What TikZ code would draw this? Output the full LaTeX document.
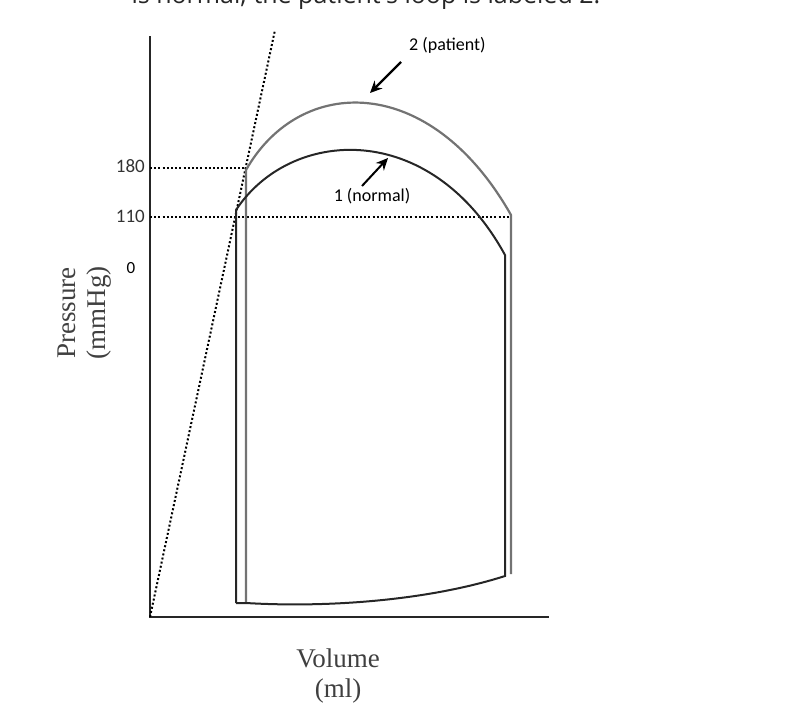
\documentclass[tikz,border=0pt]{standalone}
\usepackage{fontspec}
\usetikzlibrary{arrows.meta}
\setmainfont{Liberation Serif}
\newfontfamily\lblfont{Carlito}
\newfontfamily\topfont{Open Sans}
\begin{document}
\begin{tikzpicture}[x=1pt,y=-1pt,
  axis/.style={line width=2.4pt,black!85},
  dots/.style={line width=2pt,dash pattern=on 2pt off 2.2pt},
  patient/.style={line width=2.2pt,black!55},
  normal/.style={line width=2pt,black!85},
  lbl/.style={font=\lblfont\fontsize{18}{20}\selectfont,inner sep=1pt},
  tick/.style={font=\lblfont\fontsize{19}{21}\selectfont,anchor=east,inner sep=1pt,black!80},
  ttl/.style={font=\fontsize{27}{30}\selectfont,align=center,black!75}]
\useasboundingbox (0,0) rectangle (796,726);
\begin{scope}
\clip (0,0) rectangle (796,726);
\node[font=\topfont\fontsize{25}{28}\selectfont,anchor=west,black!85] (top) at (128,-3) {is normal; the patient's loop is labeled 2.};
\end{scope}
% axes
\coordinate (o) at (150,617);
\coordinate (ytop) at (150,36);
\coordinate (xend) at (549,617);
\draw[axis] (ytop) -- (o) -- (xend);
\coordinate (dtop) at (275,30);
\draw[dots] (o) -- (dtop);
% dotted levels
\coordinate (y180) at (150,168);
\coordinate (y110) at (150,217);
\coordinate (p180) at (246,168);
\coordinate (p110) at (511,217);
\draw[dots] (y180) -- (p180);
\draw[dots] (y110) -- (p110);
\node[tick] (t180) at (146,166) {180};
\node[tick] (t110) at (146,216) {110};
\node[font=\lblfont\fontsize{17}{19}\selectfont,inner sep=0pt] (z) at (131,268) {0};
% patient loop
\draw[patient] (246,603) -- (246,170) .. controls (300,75) and (430,72) .. (511,215) -- (511,574);
% normal loop
\draw[normal] (236,603) -- (236,210) .. controls (290,128) and (430,118) .. (505,255) -- (505,576)
  .. controls (430,600) and (330,608) .. (246,603) -- (236,603);
% arrows
\node[lbl,anchor=west] (l2) at (408,45) {2 (patient)};
\node[lbl] (l1) at (372,196) {1 (normal)};
\coordinate (a2) at (370,93);
\coordinate (a1) at (388,158);
\draw[-{Stealth[length=12pt,width=11pt]},line width=2.2pt] (401,62) -- (a2);
\draw[-{Stealth[length=12pt,width=11pt]},line width=2pt] (362,186) -- (a1);
% axis titles
\node[ttl,rotate=90] (yl) at (85,313) {Pressure\\(mmHg)};
\node[ttl] (xl) at (338,676) {Volume\\(ml)};
\end{tikzpicture}
\end{document}
